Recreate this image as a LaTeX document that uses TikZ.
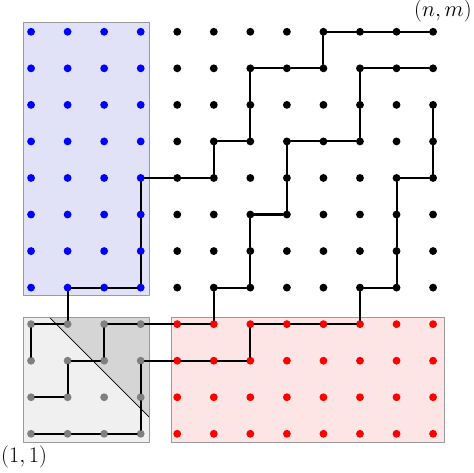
\documentclass[tikz,border=0pt]{standalone}
\usepackage{amsmath}
\usepackage{xcolor}
\usepackage{tikz}
\definecolor{bluebox}{HTML}{E1E1F8}
\definecolor{redbox}{HTML}{FDE5E5}
\definecolor{graybox}{HTML}{F0F0F0}
\definecolor{graycut}{HTML}{D5D5D5}
\definecolor{boxline}{HTML}{9A9A9A}
\definecolor{graypt}{HTML}{808080}
\tikzset{
    every picture/.style={line cap=round,line join=round},
    gridpt/.style={circle,fill=black,inner sep=0pt,outer sep=0pt,minimum size=2.15mm},
    regionbox/.style={draw=boxline,line width=0.6pt},
    pathline/.style={draw=black,line width=1.6pt},
    cornerlabel/.style={font=\LARGE,inner sep=0pt}
}

\begin{document}
\begin{tikzpicture}
  \useasboundingbox (0.15,-0.07) rectangle (13.12,12.87);
  % shaded regions
  \fill[bluebox] (0.79,4.8) rectangle (4.23,12.25);
  \fill[redbox] (4.83,0.77) rectangle (12.31,4.19);
  \fill[graybox] (0.79,0.77) rectangle (4.23,4.19);
  \fill[graycut] (1.5,4.19) -- (4.23,4.19) -- (4.23,1.46) -- cycle;
  \draw[line width=0.6pt] (1.5,4.19) -- (4.23,1.46);
  \draw[regionbox] (0.79,4.8) rectangle (4.23,12.25);
  \draw[regionbox] (4.83,0.77) rectangle (12.31,4.19);
  \draw[regionbox] (0.79,0.77) rectangle (4.23,4.19);

  % grid points
  \foreach \i in {1,...,4}
    \foreach \j in {5,...,12}
      \node[gridpt,fill=blue] (p\i-\j) at (\i,\j) {};
  \foreach \i in {1,...,4}
    \foreach \j in {1,...,4}
      \node[gridpt,fill=graypt] (p\i-\j) at (\i,\j) {};
  \foreach \i in {5,...,12}
    \foreach \j in {1,...,4}
      \node[gridpt,fill=red] (p\i-\j) at (\i,\j) {};
  \foreach \i in {5,...,12}
    \foreach \j in {5,...,12}
      \node[gridpt] (p\i-\j) at (\i,\j) {};

  % three monotone paths
  \draw[pathline] (p1-3) -- (p1-4) -- (p2-4) -- (p2-5) -- (p3-5) -- (p4-5)
    -- (p4-6) -- (p4-7) -- (p4-8) -- (p5-8) -- (p6-8) -- (p6-9) -- (p7-9)
    -- (p7-10) -- (p7-11) -- (p8-11) -- (p9-11) -- (p9-12) -- (p10-12)
    -- (p11-12) -- (p12-12);
  \draw[pathline] (p1-2) -- (p2-2) -- (p2-3) -- (p3-3) -- (p3-4) -- (p4-4)
    -- (p5-4) -- (p6-4) -- (p6-5) -- (p7-5) -- (p7-6) -- (p7-7) -- (p8-7)
    -- (p8-8) -- (p8-9) -- (p9-9) -- (p10-9) -- (p10-10) -- (p10-11)
    -- (p11-11) -- (p12-11);
  \draw[pathline] (p1-1) -- (p2-1) -- (p3-1) -- (p4-1) -- (p4-2) -- (p4-3)
    -- (p5-3) -- (p6-3) -- (p7-3) -- (p7-4) -- (p8-4) -- (p9-4) -- (p10-4)
    -- (p10-5) -- (p11-5) -- (p11-6) -- (p11-7) -- (p11-8) -- (p12-8)
    -- (p12-9) -- (p12-10);

  \node[cornerlabel] (start) at (0.81,0.36) {$(1,1)$};
  \node[cornerlabel] (goal) at (12.27,12.58) {$(n,m)$};
\end{tikzpicture}
\end{document}
